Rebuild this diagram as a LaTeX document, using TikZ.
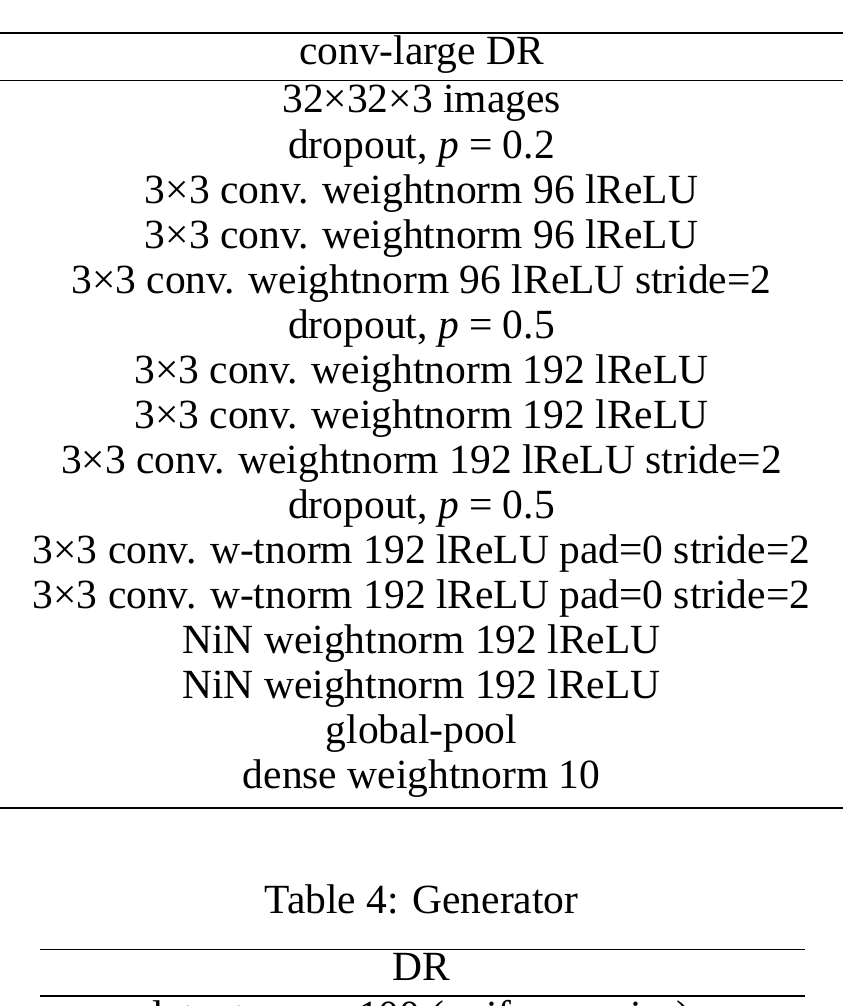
\documentclass[tikz,border=0pt]{standalone}
\usepackage{fontspec}
\setmainfont{Liberation Serif}
\begin{document}
\begin{tikzpicture}[x=1pt,y=-1pt,
 row/.style={font=\fontsize{41.5}{44}\selectfont, inner sep=0pt, text height=29pt, text depth=9pt}]
\useasboundingbox (0,0) rectangle (843,1006);
\clip (0,0) rectangle (843,1006);
\draw[line width=1.1pt] (0,33) coordinate (t1) -- (843,33) coordinate (t2);
\draw[line width=0.9pt] (0,80) coordinate (h1) -- (843,80) coordinate (h2);
\draw[line width=1.1pt] (0,808) coordinate (b1) -- (843,808) coordinate (b2);
\node[row] (n0) at (421.5,55) {conv-large DR};
\foreach \i/\t in {0/{32×32×3 images},
1/{dropout, \textit{p} = 0.2},
2/{3×3 conv. weightnorm 96 lReLU},
3/{3×3 conv. weightnorm 96 lReLU},
4/{3×3 conv. weightnorm 96 lReLU stride=2},
5/{dropout, \textit{p} = 0.5},
6/{3×3 conv. weightnorm 192 lReLU},
7/{3×3 conv. weightnorm 192 lReLU},
8/{3×3 conv. weightnorm 192 lReLU stride=2},
9/{dropout, \textit{p} = 0.5},
10/{3×3 conv. w-tnorm 192 lReLU pad=0 stride=2},
11/{3×3 conv. w-tnorm 192 lReLU pad=0 stride=2},
12/{NiN weightnorm 192 lReLU},
13/{NiN weightnorm 192 lReLU},
14/{global-pool},
15/{dense weightnorm 10}}
{\node[row] (r\i) at (421.5,{103+45*\i}) {\t};}
\node[row] (cap) at (421.5,903) {Table 4: Generator};
\draw[line width=0.9pt] (40,949) coordinate (g1) -- (805,949) coordinate (g2);
\node[row] (dr) at (421.5,970) {DR};
\draw[line width=1.1pt] (40,996) coordinate (g3) -- (805,996) coordinate (g4);
\node[row] (lat) at (421.5,1019) {latent space 100 (uniform noise)};
\end{tikzpicture}
\end{document}
